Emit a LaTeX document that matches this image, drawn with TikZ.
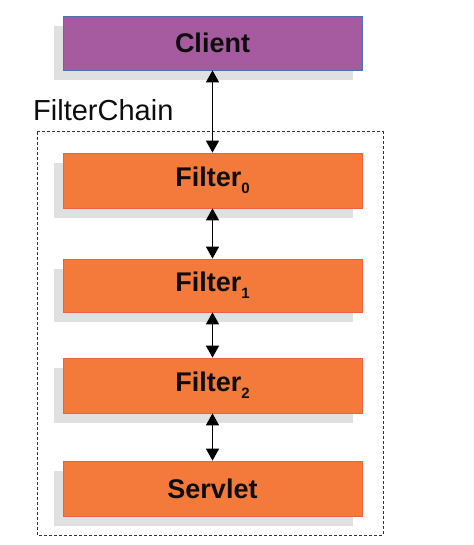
\documentclass[tikz,border=0pt]{standalone}
\usepackage{fontspec}
\setmainfont{Liberation Sans}
\usetikzlibrary{arrows.meta}
\definecolor{clientfill}{HTML}{A65BA0}
\definecolor{clientline}{HTML}{4A72B8}
\definecolor{filterfill}{HTML}{F47A3B}
\definecolor{filterline}{HTML}{EE6040}
\definecolor{shadowgray}{HTML}{E0E0E0}
\newcommand{\fsub}[1]{\raisebox{-7pt}{\fontsize{15}{16}\selectfont #1}}
\tikzset{
  box/.style={minimum width=299pt, minimum height=54pt, inner sep=0pt,
    font=\fontsize{27}{30}\selectfont\bfseries, text=black!95,
    line width=0.8pt},
  clientbox/.style={box, fill=clientfill, draw=clientline},
  filterbox/.style={box, fill=filterfill, draw=filterline},
  link/.style={line width=1.5pt, {Triangle[width=13pt,length=12pt]}-{Triangle[width=13pt,length=12pt]}}
}
\begin{document}
\begin{tikzpicture}[x=1pt,y=-1pt]
\useasboundingbox (0,0) rectangle (473,545);
% shadows
\foreach \t/\b in {16/70,153/208,259/312,358/413,461/516}{
  \fill[shadowgray] (54,\t+10) rectangle (353,\b+10);
}
\node[clientbox, minimum height=54pt] (client) at (212.5,43) {Client};
\node[filterbox, minimum height=55pt] (f0) at (212.5,180.5) {Filter\fsub{0}};
\node[filterbox, minimum height=53pt] (f1) at (212.5,285.5) {Filter\fsub{1}};
\node[filterbox, minimum height=55pt] (f2) at (212.5,385.5) {Filter\fsub{2}};
\node[filterbox, minimum height=55pt] (sv) at (212.5,488.5) {Servlet};
\coordinate (dtl) at (37,132);
\coordinate (dbr) at (383,535);
\draw[line width=1pt, dash pattern=on 3pt off 2pt, black!80] (dtl) rectangle (dbr);
\node[anchor=base west, inner sep=0pt, font=\fontsize{29}{32}\selectfont, text=black!95] (fc) at (33,121) {FilterChain};
\draw[link] (client.south) -- (f0.north);
\draw[link] (f0.south) -- (f1.north);
\draw[link] (f1.south) -- (f2.north);
\draw[link] (f2.south) -- (sv.north);
\end{tikzpicture}
\end{document}
